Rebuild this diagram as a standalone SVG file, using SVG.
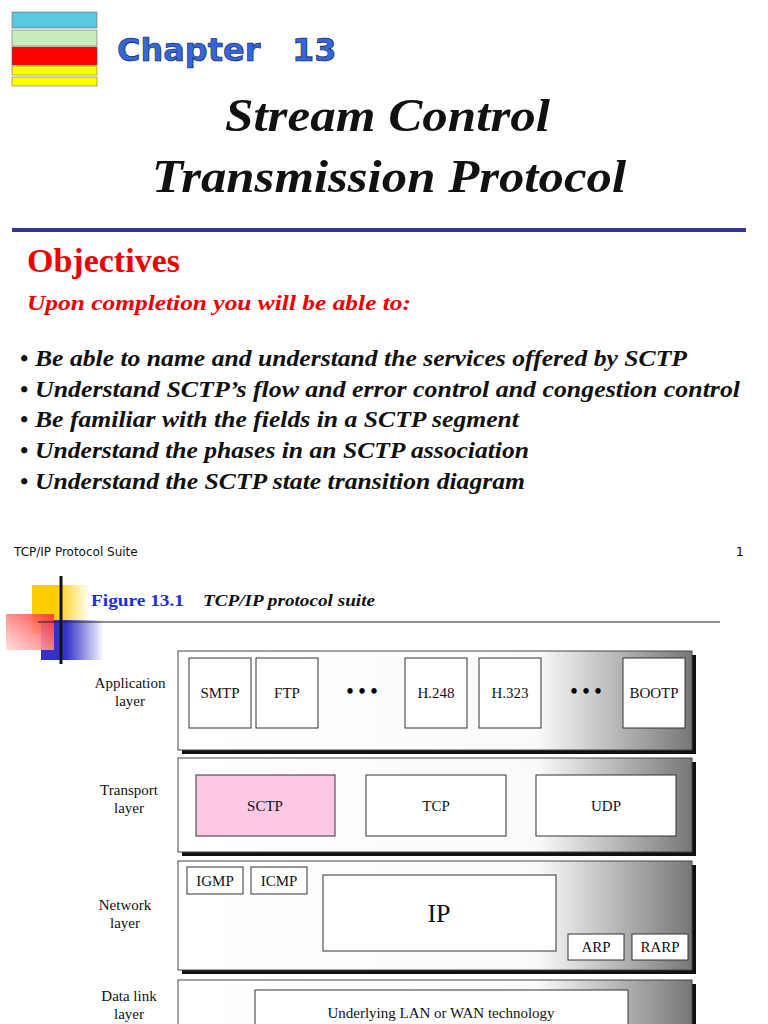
<svg xmlns="http://www.w3.org/2000/svg" width="768" height="1024" viewBox="0 0 768 1024">
<defs>
<style>
.t{font-family:"Liberation Serif",serif;font-style:italic;font-weight:bold}
.s{font-family:"Liberation Serif",serif;font-size:15px;fill:#111}
.b{fill:#fff;stroke:#333;stroke-width:1}
.lay{fill:url(#g);stroke:#444;stroke-width:1}
.sh{fill:#111}
</style>
<linearGradient id="g" x1="0" x2="1" y1="0" y2="0">
<stop offset="0" stop-color="#fff"/><stop offset="0.7" stop-color="#fafafa"/><stop offset="1" stop-color="#777"/>
</linearGradient>
<linearGradient id="rg" x1="1" x2="0" y1="0" y2="1"><stop offset="0" stop-color="#f33"/><stop offset="1" stop-color="#fdd"/></linearGradient>
<linearGradient id="bg" x1="0" x2="1"><stop offset="0.4" stop-color="#33c"/><stop offset="1" stop-color="#fff"/></linearGradient>
<linearGradient id="yg" x1="0" x2="1"><stop offset="0.4" stop-color="#fc0"/><stop offset="1" stop-color="#fff"/></linearGradient>
</defs>
<rect width="768" height="1024" fill="#fff"/>
<g id="bars" stroke="#555" stroke-width="0.5">
<rect x="12" y="12" width="85" height="16" fill="#5bc8e0"/>
<rect x="12" y="30" width="85" height="16" fill="#c8ecbc"/>
<rect x="12" y="47" width="85" height="18" fill="#f00"/>
<rect x="12" y="66" width="85" height="9" fill="#ff0"/>
<rect x="12" y="77" width="85" height="9" fill="#ff0"/>
</g>
<text x="117" y="61" font-family="DejaVu Sans,sans-serif" font-weight="bold" font-size="32" fill="#3366dd" stroke="#113" stroke-width="0.6">Chapter</text>
<text x="292" y="61" font-family="DejaVu Sans,sans-serif" font-weight="bold" font-size="32" fill="#3366dd" stroke="#113" stroke-width="0.6">13</text>
<text x="225" y="131" class="t" font-size="46" fill="#111" textLength="325" lengthAdjust="spacingAndGlyphs">Stream Control</text>
<text x="152" y="192" class="t" font-size="46" fill="#111" textLength="474" lengthAdjust="spacingAndGlyphs">Transmission Protocol</text>
<rect x="12" y="228" width="734" height="4" fill="#333399"/>
<text x="27" y="272" font-family="Liberation Serif,serif" font-weight="bold" font-size="34" fill="#e00">Objectives</text>
<text x="27" y="310" class="t" font-size="22" fill="#e00" textLength="384" lengthAdjust="spacingAndGlyphs">Upon completion you will be able to:</text>
<g class="t" font-size="23" fill="#111">
<text x="20" y="366">•</text><text x="35" y="366" textLength="652" lengthAdjust="spacingAndGlyphs">Be able to name and understand the services offered by SCTP</text>
<text x="20" y="397">•</text><text x="35" y="397" textLength="705" lengthAdjust="spacingAndGlyphs">Understand SCTP’s flow and  error control and congestion control</text>
<text x="20" y="427">•</text><text x="35" y="427" textLength="484" lengthAdjust="spacingAndGlyphs">Be familiar with the fields in a SCTP segment</text>
<text x="20" y="458">•</text><text x="35" y="458" textLength="494" lengthAdjust="spacingAndGlyphs">Understand the phases in an SCTP association</text>
<text x="20" y="489">•</text><text x="35" y="489" textLength="490" lengthAdjust="spacingAndGlyphs">Understand the SCTP state transition diagram</text>
</g>
<text x="14" y="556" font-family="DejaVu Sans,sans-serif" font-size="12" fill="#111">TCP/IP Protocol Suite</text>
<text x="744" y="556" text-anchor="end" font-family="DejaVu Sans,sans-serif" font-size="13" fill="#111">1</text>
<g id="deco">
<rect x="32" y="585" width="58" height="48" fill="url(#yg)"/>
<rect x="41" y="620" width="63" height="40" fill="url(#bg)"/>
<rect x="6" y="614" width="48" height="36" fill="url(#rg)" opacity="0.9"/>
<line x1="61" y1="576" x2="61" y2="664" stroke="#111" stroke-width="3"/>
<line x1="38" y1="622" x2="720" y2="622" stroke="#222" stroke-width="1"/>
</g>
<text x="91" y="606" font-family="Liberation Serif,serif" font-weight="bold" font-size="17" fill="#1a2ee0" textLength="93" lengthAdjust="spacingAndGlyphs">Figure 13.1</text>
<text x="203" y="606" class="t" font-size="17" fill="#111" textLength="172" lengthAdjust="spacingAndGlyphs">TCP/IP protocol suite</text>
<g id="application">
<rect x="182" y="655" width="514" height="99" class="sh"/>
<rect x="178" y="651" width="514" height="99" class="lay"/>
<text x="130" y="688" text-anchor="middle" class="s">Application</text><text x="130" y="706" text-anchor="middle" class="s">layer</text>
<rect x="189" y="658" width="62" height="70" class="b"/><text x="220" y="698" text-anchor="middle" class="s">SMTP</text>
<rect x="256" y="658" width="62" height="70" class="b"/><text x="287" y="698" text-anchor="middle" class="s">FTP</text>
<text x="362" y="698" text-anchor="middle" font-family="Liberation Serif,serif" font-weight="bold" font-size="20">• • •</text>
<rect x="405" y="658" width="62" height="70" class="b"/><text x="436" y="698" text-anchor="middle" class="s">H.248</text>
<rect x="479" y="658" width="62" height="70" class="b"/><text x="510" y="698" text-anchor="middle" class="s">H.323</text>
<text x="586" y="698" text-anchor="middle" font-family="Liberation Serif,serif" font-weight="bold" font-size="20">• • •</text>
<rect x="623" y="658" width="62" height="70" class="b"/><text x="654" y="698" text-anchor="middle" class="s">BOOTP</text>
</g>
<g id="transport">
<rect x="182" y="762" width="514" height="94" class="sh"/>
<rect x="178" y="758" width="514" height="94" class="lay"/>
<text x="129" y="795" text-anchor="middle" class="s">Transport</text><text x="129" y="813" text-anchor="middle" class="s">layer</text>
<rect x="196" y="775" width="139" height="61" fill="#fcc8e4" stroke="#333"/><text x="265" y="811" text-anchor="middle" class="s">SCTP</text>
<rect x="366" y="775" width="140" height="61" class="b"/><text x="436" y="811" text-anchor="middle" class="s">TCP</text>
<rect x="536" y="775" width="140" height="61" class="b"/><text x="606" y="811" text-anchor="middle" class="s">UDP</text>
</g>
<g id="network">
<rect x="182" y="865" width="514" height="109" class="sh"/>
<rect x="178" y="861" width="514" height="109" class="lay"/>
<text x="125" y="910" text-anchor="middle" class="s">Network</text><text x="125" y="928" text-anchor="middle" class="s">layer</text>
<rect x="187" y="867" width="56" height="27" class="b"/><text x="215" y="886" text-anchor="middle" class="s">IGMP</text>
<rect x="251" y="867" width="56" height="27" class="b"/><text x="279" y="886" text-anchor="middle" class="s">ICMP</text>
<rect x="323" y="875" width="233" height="76" class="b"/><text x="439" y="922" text-anchor="middle" font-family="Liberation Serif,serif" font-size="26" fill="#111">IP</text>
<rect x="568" y="934" width="56" height="26" class="b"/><text x="596" y="952" text-anchor="middle" class="s">ARP</text>
<rect x="632" y="934" width="56" height="26" class="b"/><text x="660" y="952" text-anchor="middle" class="s">RARP</text>
</g>
<g id="datalink">
<rect x="182" y="984" width="514" height="60" class="sh"/>
<rect x="178" y="980" width="514" height="60" class="lay"/>
<text x="129" y="1001" text-anchor="middle" class="s">Data link</text><text x="129" y="1019" text-anchor="middle" class="s">layer</text>
<rect x="255" y="990" width="373" height="60" class="b"/>
<text x="441" y="1018" text-anchor="middle" class="s">Underlying LAN or WAN technology</text>
</g>
<g id="connectors"/>
</svg>
